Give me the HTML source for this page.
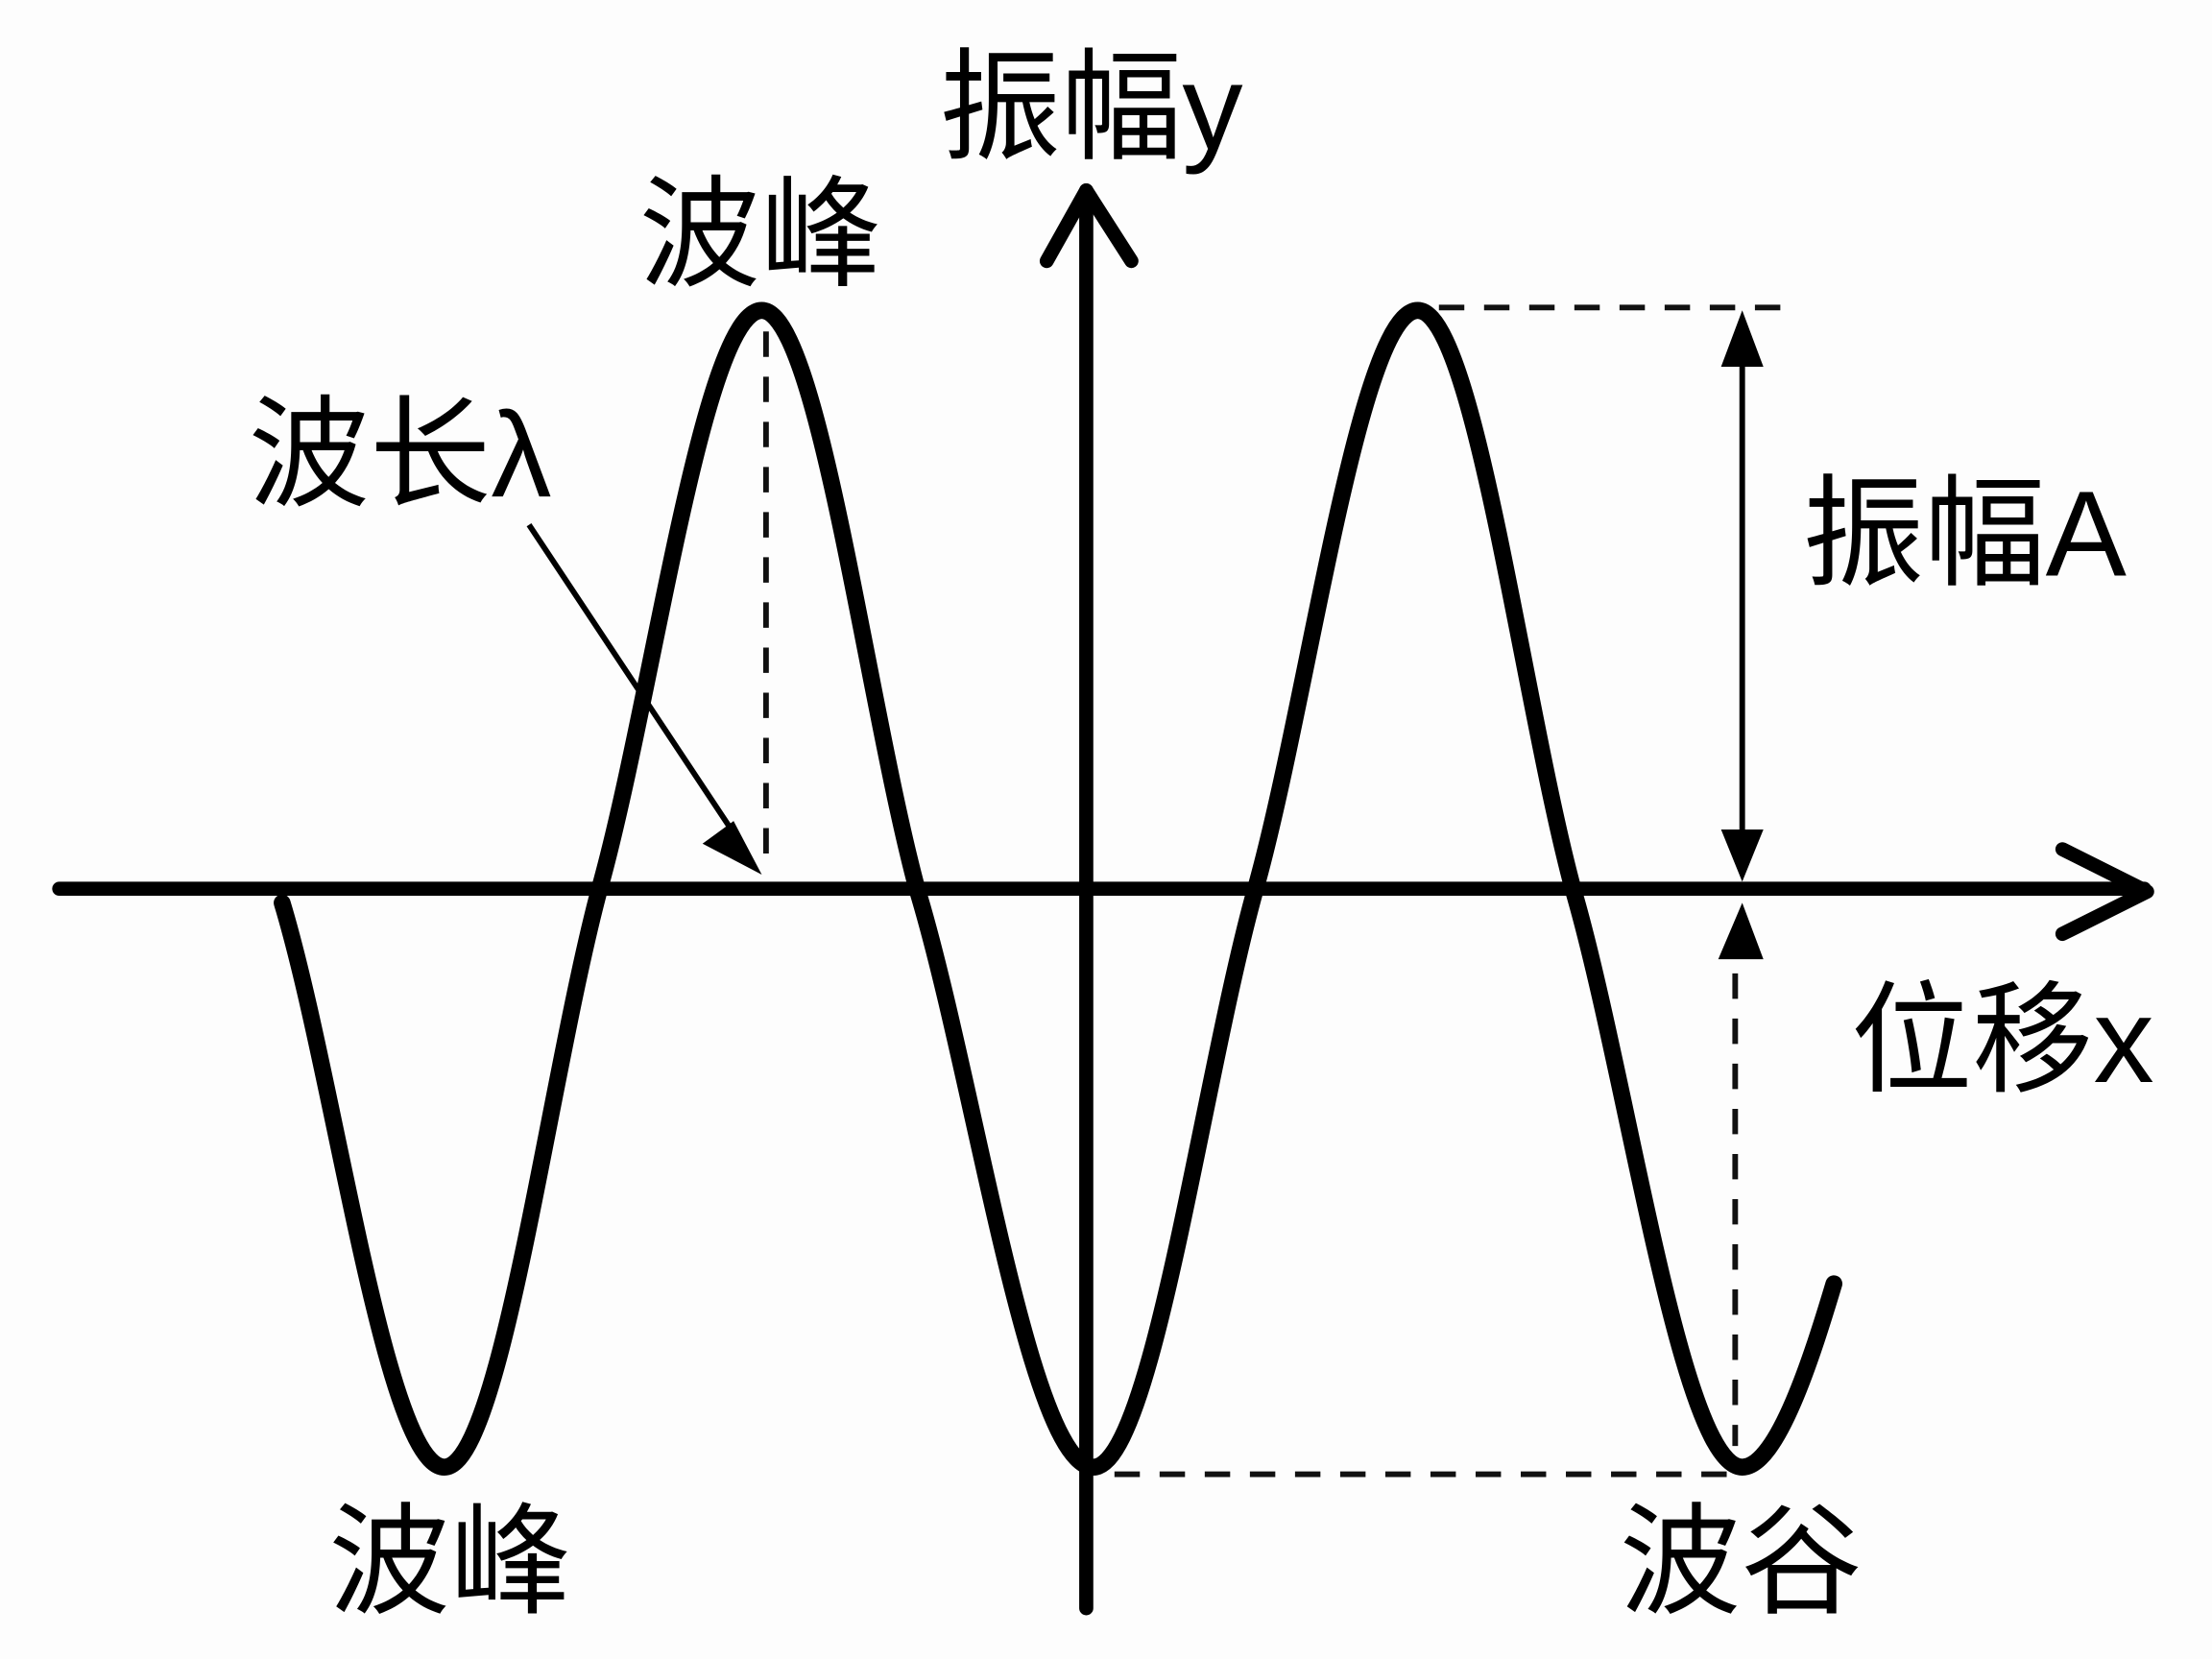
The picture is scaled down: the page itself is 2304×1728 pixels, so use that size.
<!DOCTYPE html>
<html><head><meta charset="utf-8"><style>
html,body{margin:0;padding:0;background:#fff;}
svg{display:block;}
text{font-family:"Liberation Sans","Noto Sans CJK SC",sans-serif;fill:#000;}
</style></head><body>
<svg width="2304" height="1728" viewBox="0 0 1568 1176" xmlns="http://www.w3.org/2000/svg">
<rect width="1568" height="1176" fill="#fdfdfd"/>
<g stroke="#111" stroke-width="4" stroke-dasharray="18,14" fill="none">
<line x1="543" y1="235" x2="543" y2="618"/>
<line x1="1020" y1="218" x2="1268" y2="218"/>
<line x1="790" y1="1045" x2="1230" y2="1045"/>
<line x1="1230" y1="690" x2="1230" y2="1025"/>
</g>
<g stroke="#000" stroke-width="10" stroke-linecap="round" stroke-linejoin="round" fill="none">
<line x1="42" y1="630" x2="1520" y2="630"/>
<polyline points="1462,602 1522,632 1462,662"/>
<line x1="770" y1="1140" x2="770" y2="135"/>
<polyline points="742,185 770,135 802,185"/>
</g>
<path d="M200,640 C237.5,764 273.4,1040 315,1040 C354.8,1040 389.1,764 425,630 C462.5,496 498.4,220 540,220 C579.8,220 614.1,496 650,630 C690.8,764 729.8,1040 775,1040 C816.6,1040 852.5,764 890,630 C927.5,496 963.4,220 1005,220 C1044.8,220 1079.1,496 1115,630 C1154.1,764 1191.6,1040 1235,1040 C1260,1040 1285,960 1300,910" stroke="#000" stroke-width="12" fill="none" stroke-linecap="round" stroke-linejoin="round"/>
<line x1="1235" y1="250" x2="1235" y2="595" stroke="#000" stroke-width="4"/>
<polygon points="1235,220 1220,260 1250,260" fill="#000"/>
<polygon points="1235,625 1220,588 1250,588" fill="#000"/>
<polygon points="1235,640 1218,680 1250,680" fill="#000"/>
<line x1="375" y1="372" x2="525" y2="598" stroke="#000" stroke-width="4"/>
<polygon points="540,620 498,598 520,582" fill="#000"/>
<g font-size="86">
<text x="666" y="106">振幅y</text>
<text x="453" y="196">波峰</text>
<text x="176" y="352">波长λ</text>
<text x="1278" y="408">振幅A</text>
<text x="1312" y="767">位移x</text>
<text x="233" y="1137">波峰</text>
<text x="1148" y="1137">波谷</text>
</g>
</svg>
</body></html>
